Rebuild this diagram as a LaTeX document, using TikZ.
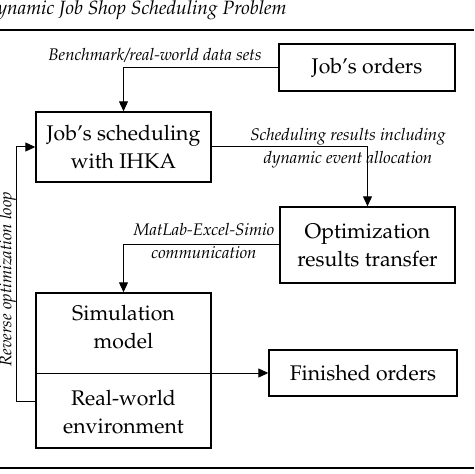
\documentclass[tikz,border=0pt]{standalone}
\usepackage[T1]{fontenc}
\usepackage{mathpazo}
\usetikzlibrary{arrows.meta,positioning,calc}

\begin{document}
\begin{tikzpicture}[x=0.5pt,y=-0.5pt,
  box/.style={draw,line width=0.7pt,minimum width=87.5pt,align=center,
    font=\fontsize{10.6}{14}\selectfont},
  lbl/.style={font=\fontsize{8.4}{11.5}\selectfont\itshape,inner sep=0pt},
  flow/.style={line width=0.5pt,-{Triangle[length=5pt,width=4.5pt]}}]
  \useasboundingbox (0,0) rectangle (474,474);
  % Title and rules
  \node[font=\fontsize{9.6}{12}\selectfont\itshape,anchor=east,inner sep=0pt] (title) at (287,10) {Dynamic Job Shop Scheduling Problem};
  \draw[line width=1pt] (0,30.5) -- (474,30.5);
  \draw[line width=1pt] (0,468) -- (474,468);
  % Boxes
  \node[box,minimum width=88pt,minimum height=23.5pt] (orders) at (367,67.5) {Job's orders};
  \node[box,minimum height=35pt] (sched) at (123.5,147) {Job's scheduling\\with IHKA};
  \node[box,minimum height=38pt] (optim) at (367.5,245) {Optimization\\results transfer};
  \node[box,minimum height=77.5pt] (sim) at (123.5,370.5) {};
  \node[box,draw=none,minimum height=0pt] (simtop) at (123.5,327) {Simulation\\model};
  \node[box,draw=none,minimum height=0pt] (simbot) at (123.5,412) {Real-world\\environment};
  \node[box,minimum width=94pt,minimum height=23pt] (finished) at (363,373) {Finished orders};
  % Connectors
  \draw[flow] (orders.west) -| (sched.north);
  \node[lbl] (bench) at (155,55) {Benchmark/real-world data sets};
  \draw[flow] (sched.east) -| (optim.north);
  \node[lbl,align=center] (schedres) at (348,148.5) {Scheduling results including\\dynamic event allocation};
  \draw[flow] (optim.west) -| (sim.north);
  \node[lbl,align=center] (matlab) at (204,241.5) {MatLab-Excel-Simio\\communication};
  \draw[flow] (sim.west |- finished.west) -- (finished.west);
  % Reverse loop
  \coordinate (loopin) at ($(sim.south west)!0.3!(sim.north west)$);
  \draw[flow] (loopin) -- ++(-19,0) |- (sched.west);
  \node[lbl,rotate=90] (loop) at (7.5,279) {Reverse optimization loop};
\end{tikzpicture}
\end{document}
